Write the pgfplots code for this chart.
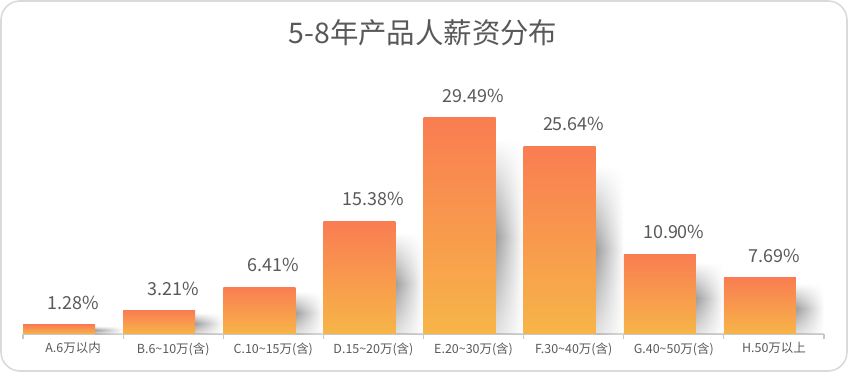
\documentclass[border=0pt]{standalone}
\usepackage{pgfplots}
\pgfplotsset{compat=1.18}
\usepackage{fontspec}
\setmainfont{Noto Sans CJK SC}
\usetikzlibrary{fadings}
\definecolor{bartop}{HTML}{F97D52}
\definecolor{barbot}{HTML}{F7B548}
\definecolor{txt}{HTML}{595959}
\definecolor{axgray}{HTML}{C8C8C8}
\definecolor{frame}{HTML}{DADADA}
\tikzfading[name=shfade, top color=transparent!100, bottom color=transparent!70, middle color=transparent!0]
\newcommand{\shadowbar}[2]{\addplot[ybar, bar width=28bp, bar shift=36bp, draw=none, left color=black!38, right color=white, path fading=shfade] coordinates {(#1,#2)};}
\newcommand{\mainbar}[2]{\addplot[ybar, bar width=72bp, bar shift=-14bp, draw=none, top color=bartop, bottom color=barbot] coordinates {(#1,#2)};}
\begin{document}
\begin{tikzpicture}
\useasboundingbox (0,0) rectangle (848bp,372bp);
\draw[line width=1.6bp, frame, rounded corners=19bp] (1bp,1bp) rectangle (847bp,371bp);
\node[text=txt, font=\fontsize{28.5}{31}\selectfont] at (423bp,339bp) {5-8年产品人薪资分布};
\begin{axis}[
  at={(23bp,38bp)}, anchor=south west,
  scale only axis, width=801bp, height=256.5bp,
  xmin=-0.5, xmax=7.5, ymin=0, ymax=35,
  axis x line*=bottom, axis y line=none,
  x axis line style={axgray, line width=1.6bp},
  xtick={0,...,7},
  xticklabels={A.6万以内,B.6\textasciitilde10万(含),C.10\textasciitilde15万(含),D.15\textasciitilde20万(含),E.20\textasciitilde30万(含),F.30\textasciitilde40万(含),G.40\textasciitilde50万(含),H.50万以上},
  major tick length=0pt,
  minor xtick={-0.5,0.5,...,7.5},
  minor tick length=5bp,
  tick align=outside,
  minor tick style={axgray, line width=1.2bp},
  x tick label style={text=txt, font=\fontsize{12.5}{14}\selectfont, yshift=-5bp},
  /pgf/number format/assume math mode=true,
  clip=false,
]
% shadows
\shadowbar{0}{1.1}
\shadowbar{1}{2.9}
\shadowbar{2}{5.8}
\shadowbar{3}{13.8}
\shadowbar{4}{26.5}
\shadowbar{5}{23}
\shadowbar{6}{9.8}
\shadowbar{7}{6.9}
% bars
\mainbar{0}{1.28}
\mainbar{1}{3.21}
\mainbar{2}{6.41}
\mainbar{3}{15.38}
\mainbar{4}{29.49}
\mainbar{5}{25.64}
\mainbar{6}{10.90}
\mainbar{7}{7.69}
% labels
\addplot[draw=none, mark=none, nodes near coords={\pgfmathprintnumber[fixed,precision=2,fixed zerofill,assume math mode=true]{\pgfplotspointmeta}\%},
  every node near coord/.append style={anchor=center, yshift=22bp, text=txt, font=\fontsize{18}{20}\selectfont}]
  coordinates {(0,1.28) (1,3.21) (2,6.41) (3,15.38) (4,29.49) (5,25.64) (6,10.90) (7,7.69)};
\end{axis}
\end{tikzpicture}
\end{document}
